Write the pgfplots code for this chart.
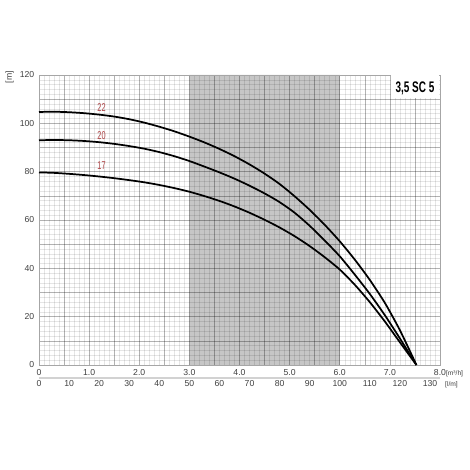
\documentclass[border=0pt]{standalone}
\usepackage{fontspec}
\setmainfont{Liberation Sans}
\newfontfamily\narrowfont[FakeStretch=0.65]{Liberation Sans}
\usepackage{pgfplots}
\pgfplotsset{compat=1.18}
\definecolor{ticktext}{HTML}{404040}
\definecolor{curvered}{HTML}{B0484A}

\begin{document}
\begin{tikzpicture}
% page = 470x470 px, 1px = 0.75pt; axis box at px (39..440, 75..365)
\useasboundingbox (-29.25pt,-78.75pt) rectangle (323.25pt,273.75pt);

% background: shaded band, grid paper and the m3/h row
\begin{axis}[
    width=300.75pt, height=217.5pt, scale only axis,
    xmin=0, xmax=8, ymin=0, ymax=120,
    xtick={0,0.5,...,8}, ytick={0,10,...,120},
    minor x tick num=4, minor y tick num=4,
    grid=both,
    major grid style={black, opacity=0.3, line width=0.45pt},
    minor grid style={black, opacity=0.1, line width=0.35pt},
    tick style={draw=none},
    axis line style={draw=none},
    yticklabels={},
    xticklabels={0,,1.0,,2.0,,3.0,,4.0,,5.0,,6.0,,7.0,,8.0\rlap{\fontsize{5}{6}\selectfont[m³/h]}},
    xticklabel style={anchor=base, yshift=-7.8pt, font=\fontsize{6.5}{8}\selectfont, text=ticktext},
    axis on top,
]
\addplot[fill=gray!45, draw=none] coordinates {(3,0) (3,120) (6,120) (6,0)} \closedcycle;
\end{axis}

% pump curves, flow in l/m
\begin{axis}[
    width=300.75pt, height=217.5pt, scale only axis,
    xmin=0, xmax=133.3333, ymin=0, ymax=120,
    clip=false,
    axis line style={draw=gray!70, line width=0.5pt},
    tick style={draw=none},
    xtick={0,10,...,130},
    xticklabels={0,10,20,30,40,50,60,70,80,90,100,110,120,130\rlap{\hspace{6pt}\fontsize{5}{6}\selectfont[l/m]}},
    xticklabel style={anchor=base, yshift=-16.3pt, font=\fontsize{6.5}{8}\selectfont, text=ticktext},
    ytick={0,20,...,120},
    yticklabel style={font=\fontsize{6.5}{8}\selectfont, text=ticktext},
    /pgf/number format/assume math mode=true,
]
% 22 stages
\addplot[black, line width=1.3pt, smooth, tension=0.4] coordinates {
    (0,104.7) (5,104.8) (10,104.6) (15,104.2) (20,103.6) (25,102.8)
    (30,101.7) (35,100.3) (40,98.6) (45,96.7) (50,94.5) (55,92.1)
    (60,89.4) (65,86.4) (70,83.0) (75,79.2) (80,74.9) (85,69.8)
    (90,64.2) (95,58.0) (100,51.2) (105,43.6) (110,35.2) (115,25.7)
    (120,14.4) (125.5,0)
};
% 20 stages
\addplot[black, line width=1.3pt, smooth, tension=0.4] coordinates {
    (0,93.0) (5,93.1) (10,93.0) (15,92.7) (20,92.2) (25,91.5)
    (30,90.6) (35,89.5) (40,88.1) (45,86.4) (50,84.4) (55,82.1)
    (60,79.7) (65,77.1) (70,74.2) (75,71.0) (80,67.4) (85,63.0)
    (90,57.6) (95,51.5) (100,45.0) (105,37.4) (110,29.4) (115,20.6)
    (120,11.0) (125.5,0)
};
% 17 stages
\addplot[black, line width=1.3pt, smooth, tension=0.4] coordinates {
    (0,79.7) (5,79.5) (10,79.1) (15,78.6) (20,78.0) (25,77.3)
    (30,76.5) (35,75.6) (40,74.5) (45,73.2) (50,71.7) (55,69.9)
    (60,67.9) (65,65.6) (70,63.0) (75,60.1) (80,56.9) (85,53.3)
    (90,49.2) (95,44.6) (100,39.5) (105,33.2) (110,26.0) (115,18.0)
    (120,9.4) (125.5,0)
};

\node[text=curvered, font=\narrowfont\fontsize{8.5}{9}\selectfont] at (axis cs:20.8,106.6) {22};
\node[text=curvered, font=\narrowfont\fontsize{8.5}{9}\selectfont] at (axis cs:20.8,95.0) {20};
\node[text=curvered, font=\narrowfont\fontsize{8.5}{9}\selectfont] at (axis cs:20.8,82.6) {17};

% title box
\fill[white] (axis cs:117.1,110.4) rectangle (axis cs:133.0,119.8);
\node[font=\narrowfont\bfseries\fontsize{11.5}{12}\selectfont] at (axis cs:125,114.6) {3,5 SC 5};

% unit label and separator between the two flow rows
\node[rotate=90, font=\fontsize{6.5}{8}\selectfont, text=ticktext] at ([xshift=-22pt, yshift=-1.5pt]rel axis cs:0,1) {[m]};
\draw[gray!35, line width=0.9pt] ([yshift=-9.7pt]rel axis cs:0,0) -- ([yshift=-9.7pt]rel axis cs:1,0);
\end{axis}
\end{tikzpicture}
\end{document}
